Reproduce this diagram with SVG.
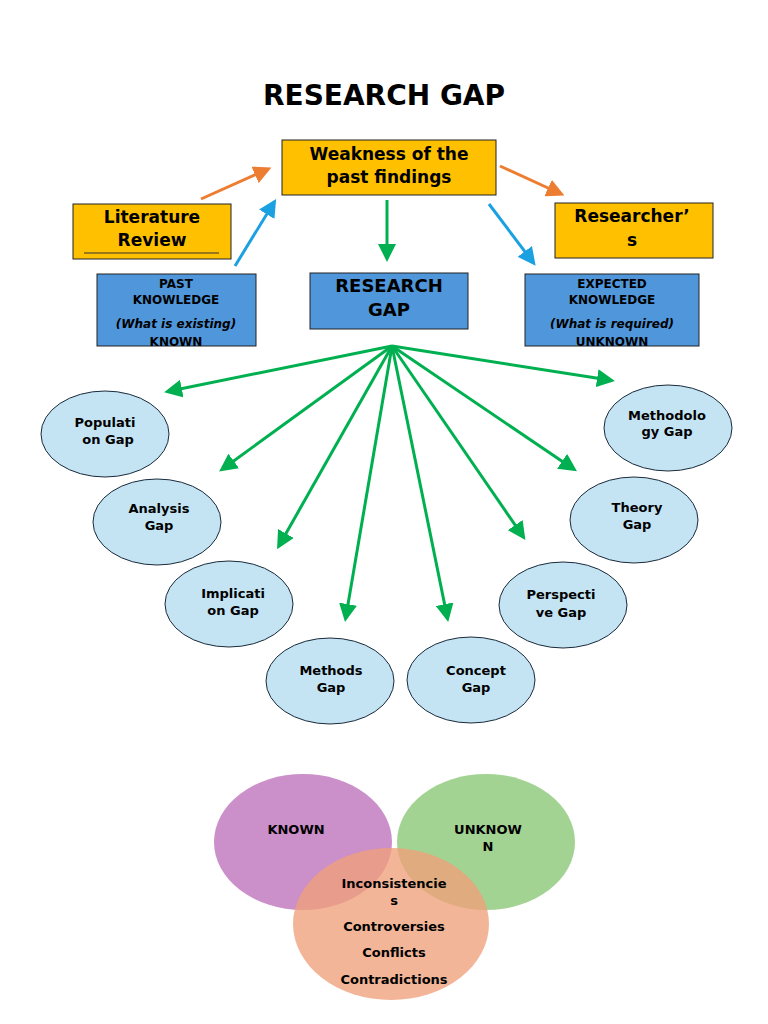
<svg xmlns="http://www.w3.org/2000/svg" width="768" height="1024" viewBox="0 0 768 1024">
<style>
text{font-family:"DejaVu Sans","Liberation Sans",sans-serif;font-weight:bold;fill:#000;text-anchor:middle}
.yb{fill:#ffc000;stroke:#222;stroke-width:1}
.bb{fill:#4f96db;stroke:#222;stroke-width:1}
.el{fill:#c4e4f4;stroke:#1a2a3a;stroke-width:1}
.g{stroke:#00b050;stroke-width:3;fill:none}
.o{stroke:#ed7d31;stroke-width:3;fill:none}
.b{stroke:#1ba1e2;stroke-width:3;fill:none}
.s{font-size:12px}
.m{font-size:13px}
</style>
<defs>
<marker id="ag" markerWidth="6" markerHeight="6" refX="4" refY="3" orient="auto" markerUnits="strokeWidth"><path d="M0,0L6,3L0,6z" fill="#00b050"/></marker>
<marker id="ao" markerWidth="6" markerHeight="6" refX="4" refY="3" orient="auto" markerUnits="strokeWidth"><path d="M0,0L6,3L0,6z" fill="#ed7d31"/></marker>
<marker id="ab" markerWidth="6" markerHeight="6" refX="4" refY="3" orient="auto" markerUnits="strokeWidth"><path d="M0,0L6,3L0,6z" fill="#1ba1e2"/></marker>
<clipPath id="c1"><rect x="97" y="274" width="159" height="72"/></clipPath>
<clipPath id="c2"><rect x="525" y="274" width="174" height="72"/></clipPath>
<clipPath id="c3"><rect x="300" y="960" width="200" height="24"/></clipPath>
</defs>
<rect width="768" height="1024" fill="#fff"/>
<text x="384" y="105" style="font-size:28px">RESEARCH GAP</text>
<g id="weakness"><rect class="yb" x="282" y="140" width="214" height="55"/><text x="389" y="160" style="font-size:17px">Weakness of the</text><text x="389" y="183" style="font-size:17px">past findings</text></g>
<g id="literature"><rect class="yb" x="73" y="204" width="158" height="55"/><text x="152" y="223" style="font-size:17px">Literature</text><text x="152" y="246" style="font-size:17px">Review</text><path d="M84,253H219" stroke="#333" stroke-width="1"/></g>
<g id="researchers"><rect class="yb" x="555" y="203" width="158" height="55"/><text x="632" y="222" style="font-size:17px">Researcher’</text><text x="632" y="246" style="font-size:17px">s</text></g>
<g id="past"><rect class="bb" x="97" y="274" width="159" height="72"/><g clip-path="url(#c1)"><text x="176" y="288" class="s">PAST</text><text x="176" y="304" class="s">KNOWLEDGE</text><text x="176" y="328" class="s" font-style="italic">(What is existing)</text><text x="176" y="346" class="s">KNOWN</text></g></g>
<g id="gap"><rect class="bb" x="310" y="273" width="158" height="56"/><text x="389" y="292" style="font-size:18px">RESEARCH</text><text x="389" y="316" style="font-size:18px">GAP</text></g>
<g id="expected"><rect class="bb" x="525" y="274" width="174" height="72"/><g clip-path="url(#c2)"><text x="612" y="288" class="s">EXPECTED</text><text x="612" y="304" class="s">KNOWLEDGE</text><text x="612" y="328" class="s" font-style="italic">(What is required)</text><text x="612" y="346" class="s">UNKNOWN</text></g></g>
<g id="connectors">
<path class="o" d="M201,199L266,170" marker-end="url(#ao)"/>
<path class="o" d="M500,166L559,193" marker-end="url(#ao)"/>
<path class="b" d="M235,266L273,204" marker-end="url(#ab)"/>
<path class="b" d="M489,204L532,261" marker-end="url(#ab)"/>
<path class="g" d="M387,200V256" marker-end="url(#ag)"/>
<path class="g" d="M392,346L170,391" marker-end="url(#ag)"/>
<path class="g" d="M392,346L224,468" marker-end="url(#ag)"/>
<path class="g" d="M392,346L280,544" marker-end="url(#ag)"/>
<path class="g" d="M392,346L346,616" marker-end="url(#ag)"/>
<path class="g" d="M392,346L447,616" marker-end="url(#ag)"/>
<path class="g" d="M392,346L522,535" marker-end="url(#ag)"/>
<path class="g" d="M392,346L572,468" marker-end="url(#ag)"/>
<path class="g" d="M392,346L609,380" marker-end="url(#ag)"/>
</g>
<g id="population"><ellipse class="el" cx="105" cy="434" rx="64" ry="43"/><text x="105" y="427" class="m">Populati</text><text x="108" y="444" class="m">on Gap</text></g>
<g id="analysis"><ellipse class="el" cx="157" cy="522" rx="64" ry="43"/><text x="159" y="513" class="m">Analysis</text><text x="159" y="530" class="m">Gap</text></g>
<g id="implication"><ellipse class="el" cx="229" cy="604" rx="64" ry="43"/><text x="233" y="598" class="m">Implicati</text><text x="233" y="615" class="m">on Gap</text></g>
<g id="methods"><ellipse class="el" cx="330" cy="681" rx="64" ry="43"/><text x="331" y="675" class="m">Methods</text><text x="331" y="692" class="m">Gap</text></g>
<g id="concept"><ellipse class="el" cx="471" cy="680" rx="64" ry="43"/><text x="476" y="675" class="m">Concept</text><text x="476" y="692" class="m">Gap</text></g>
<g id="perspective"><ellipse class="el" cx="563" cy="605" rx="64" ry="43"/><text x="561" y="599" class="m">Perspecti</text><text x="561" y="617" class="m">ve Gap</text></g>
<g id="theory"><ellipse class="el" cx="634" cy="520" rx="64" ry="43"/><text x="637" y="512" class="m">Theory</text><text x="637" y="529" class="m">Gap</text></g>
<g id="methodology"><ellipse class="el" cx="668" cy="428" rx="64" ry="43"/><text x="667" y="420" class="m">Methodolo</text><text x="667" y="436" class="m">gy Gap</text></g>
<g id="venn">
<ellipse cx="303" cy="842" rx="89" ry="68" fill="#c27bbf" opacity="0.85"/>
<ellipse cx="486" cy="842" rx="89" ry="68" fill="#8cc878" opacity="0.8"/>
<ellipse cx="391" cy="924" rx="98" ry="76" fill="#f0a07a" opacity="0.78"/>
<text x="296" y="834" class="m">KNOWN</text>
<text x="488" y="834" class="m">UNKNOW</text><text x="488" y="851" class="m">N</text>
<text x="394" y="888" class="m">Inconsistencie</text><text x="394" y="905" class="m">s</text>
<text x="394" y="931" class="m">Controversies</text>
<text x="394" y="957" class="m">Conflicts</text>
<g clip-path="url(#c3)"><text x="394" y="984" class="m">Contradictions</text></g>
</g>
</svg>
